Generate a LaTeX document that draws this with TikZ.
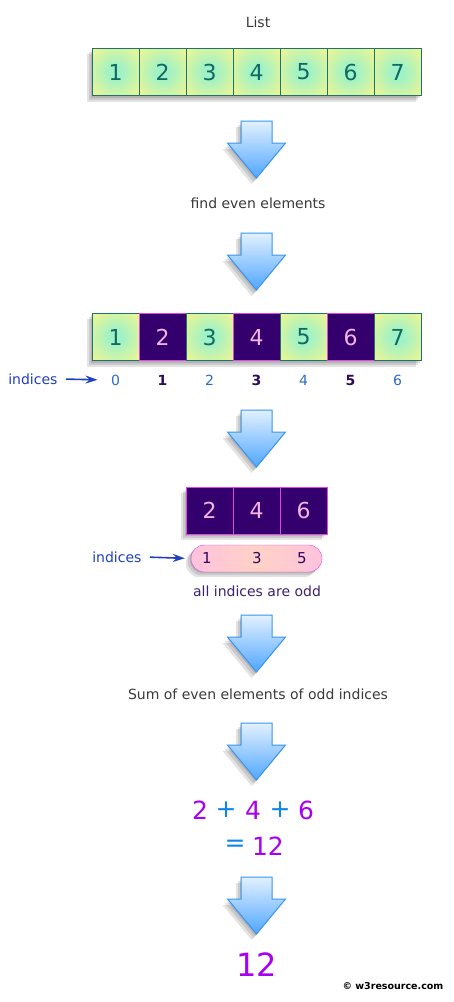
\documentclass[tikz,border=0pt]{standalone}
\usepackage{fontspec}
\setmainfont{DejaVu Sans}
\usetikzlibrary{arrows.meta}
\usetikzlibrary{fit}
\usetikzlibrary{backgrounds}
\definecolor{cellline}{HTML}{1E7272}
\definecolor{celltext}{HTML}{0E6A62}
\definecolor{cellin}{HTML}{A0F2C6}
\definecolor{cellout}{HTML}{EEF592}
\definecolor{evenfill}{HTML}{33006E}
\definecolor{evenline}{HTML}{E048E0}
\definecolor{eventext}{HTML}{F4B4E4}
\definecolor{idxblue}{HTML}{2A6CC4}
\definecolor{idxpurple}{HTML}{2C0A5E}
\definecolor{labblue}{HTML}{2040C0}
\definecolor{labgray}{HTML}{3A3A3A}
\definecolor{oddtext}{HTML}{3E2270}
\definecolor{pillside}{HTML}{FFC2DE}
\definecolor{pillmid}{HTML}{FFD2C6}
\definecolor{arrtop}{HTML}{E2F1FF}
\definecolor{arrbot}{HTML}{50A6FF}
\definecolor{arrline}{HTML}{3A94F0}
\definecolor{sumviolet}{HTML}{A800F0}
\definecolor{sumblue}{HTML}{0A86EE}
\pgfdeclareradialshading{cellglow}{\pgfpoint{0bp}{0bp}}{%
  color(0bp)=(cellin); color(7bp)=(cellin); color(34bp)=(cellout); color(50bp)=(cellout)}
\newcommand\downshape{(-15.5, 0) -- (15.5, 0) -- (15.5, 22) -- (29, 22)
        -- (0, 57) -- (-29, 22) -- (-15.5, 22) -- cycle}
\tikzset{cell/.style = {draw=cellline, minimum size=47pt, inner sep=0,
                        shading=cellglow,
                        text=celltext, font=\fontsize{22}{26}\selectfont}}
\tikzset{evencell/.style = {draw=evenline, fill=evenfill, minimum size=47pt, inner sep=0,
                            text=eventext, font=\fontsize{22}{26}\selectfont}}
\tikzset{softshadow/.style = {fill=black, opacity=0.11}}
\tikzset{evenidx/.style = {text=idxblue, font=\fontsize{14}{16}\selectfont}}
\tikzset{oddidx/.style = {text=idxpurple, font=\bfseries\fontsize{14}{16}\selectfont}}
\tikzset{label/.style = {text=labgray, font=\fontsize{14}{16}\selectfont}}
\tikzset{idxlabel/.style = {text=labblue, font=\fontsize{14}{16}\selectfont}}
\tikzset{pointer/.style = {labblue, line width=1.6pt, -{Stealth[length=12pt, width=8pt, inset=4pt]}}}
\tikzset{pill/.style = {draw=evenline, minimum width=131pt, minimum height=27pt,
                        rounded corners=13.5pt, left color=pillside, right color=pillside,
                        middle color=pillmid}}
\tikzset{pillnum/.style = {text=idxpurple, font=\fontsize{15}{17}\selectfont}}
\tikzset{arrowbody/.style = {draw=arrline, line width=1pt, top color=arrtop, bottom color=arrbot}}
\tikzset{pics/bigdown/.style = {code = {
  \foreach \d in {1, 3, 5}
      \fill [softshadow, shift={(-\d, \d + 1)}] \downshape;
  \path [arrowbody] \downshape;}}}
\tikzset{sumnum/.style = {text=sumviolet, font=\fontsize{25}{28}\selectfont, inner sep=1pt}}
\tikzset{sumop/.style = {text=sumblue, font=\fontsize{25}{28}\selectfont, inner sep=1pt}}

\begin{document}
\begin{tikzpicture}[x = 1pt, y = -1pt]
    \begin{scope}[on background layer]
        \fill [white] (0, 0) rectangle (453, 1002);
    \end{scope}
    \useasboundingbox (0, 0) rectangle (453, 1002);

    % the list
    \node [label] (title) at (258, 22) {List};
    \foreach \v [count=\i from 0] in {1, ..., 7}
        \node [cell] (a\i) at ({115.5 + 47*\i}, 72) {\v};
    \begin{scope}[on background layer]
        \foreach \d in {1, 3, 5}
            \fill [softshadow] ([shift={(-\d, \d + 1)}] a0.north west)
                rectangle ([shift={(-\d, \d + 1)}] a6.south east);
    \end{scope}

    \pic (down1) at (256.5, 121) {bigdown};
    \node [label] (find) at (258, 203) {find even elements};
    \pic (down2) at (256.5, 233) {bigdown};

    % marked list and indices
    \foreach \v/\s [count=\i from 0] in {1/cell, 2/evencell, 3/cell, 4/evencell,
                                        5/cell, 6/evencell, 7/cell}
        \node [\s] (b\i) at ({115.5 + 47*\i}, 337) {\v};
    \begin{scope}[on background layer]
        \foreach \d in {1, 3, 5}
            \fill [softshadow] ([shift={(-\d, \d + 1)}] b0.north west)
                rectangle ([shift={(-\d, \d + 1)}] b6.south east);
    \end{scope}
    \foreach \i/\s in {0/evenidx, 1/oddidx, 2/evenidx, 3/oddidx,
                       4/evenidx, 5/oddidx, 6/evenidx}
        \node [\s] (k\i) at ({115.5 + 47*\i}, 380) {\i};
    \node [idxlabel, anchor = east] (indA) at (61, 379) {indices};
    \draw [pointer, shorten <= 5pt, shorten >= 10pt] (indA.east) -- (k0.west);

    \pic (down3) at (256.5, 410) {bigdown};

    % picked elements
    \foreach \v [count=\i from 0] in {2, 4, 6}
        \node [evencell] (c\i) at ({209.5 + 47*\i}, 510.5) {\v};
    \node [pill] (pill) at (256.5, 558.5) {};
    \begin{scope}[on background layer]
        \foreach \d in {1, 3, 5} {
            \fill [softshadow] ([shift={(-\d, \d + 1)}] c0.north west)
                rectangle ([shift={(-\d, \d + 1)}] c2.south east);
            \fill [softshadow, rounded corners=13.5pt] ([shift={(-\d, \d)}] pill.north west)
                rectangle ([shift={(-\d, \d)}] pill.south east);
        }
    \end{scope}
    \node [pillnum] (p1) at (207, 558.5) {1};
    \node [pillnum] (p3) at (257, 558.5) {3};
    \node [pillnum] (p5) at (302, 558.5) {5};
    \node [idxlabel, anchor = east] (indB) at (145, 557) {indices};
    \draw [pointer, shorten <= 5pt, shorten >= 6pt] (indB.east) -- (pill.west);
    \node [label, text=oddtext] (odd) at (257, 591) {all indices are odd};

    \pic (down4) at (256.5, 615) {bigdown};
    \node [label] (sumtxt) at (258, 694) {Sum of even elements of odd indices};
    \pic (down5) at (256.5, 723) {bigdown};

    % the sum
    \node [sumnum] (s2) at (200, 810) {2};
    \node [sumop]  (plus1) at (226, 810) {+};
    \node [sumnum] (s4) at (253, 810) {4};
    \node [sumop]  (plus2) at (280, 810) {+};
    \node [sumnum] (s6) at (306, 810) {6};
    \node [sumop]  (eq) at (235, 846) {=};
    \node [sumnum] (total) at (268, 846) {12};

    \pic (down6) at (256.5, 877) {bigdown};
    \node [sumnum, font=\fontsize{32}{36}\selectfont] (result) at (257, 965) {12};
    \node [font=\bfseries\fontsize{9.5}{12}\selectfont] (credit) at (393, 986) {© w3resource.com};
\end{tikzpicture}
\end{document}
